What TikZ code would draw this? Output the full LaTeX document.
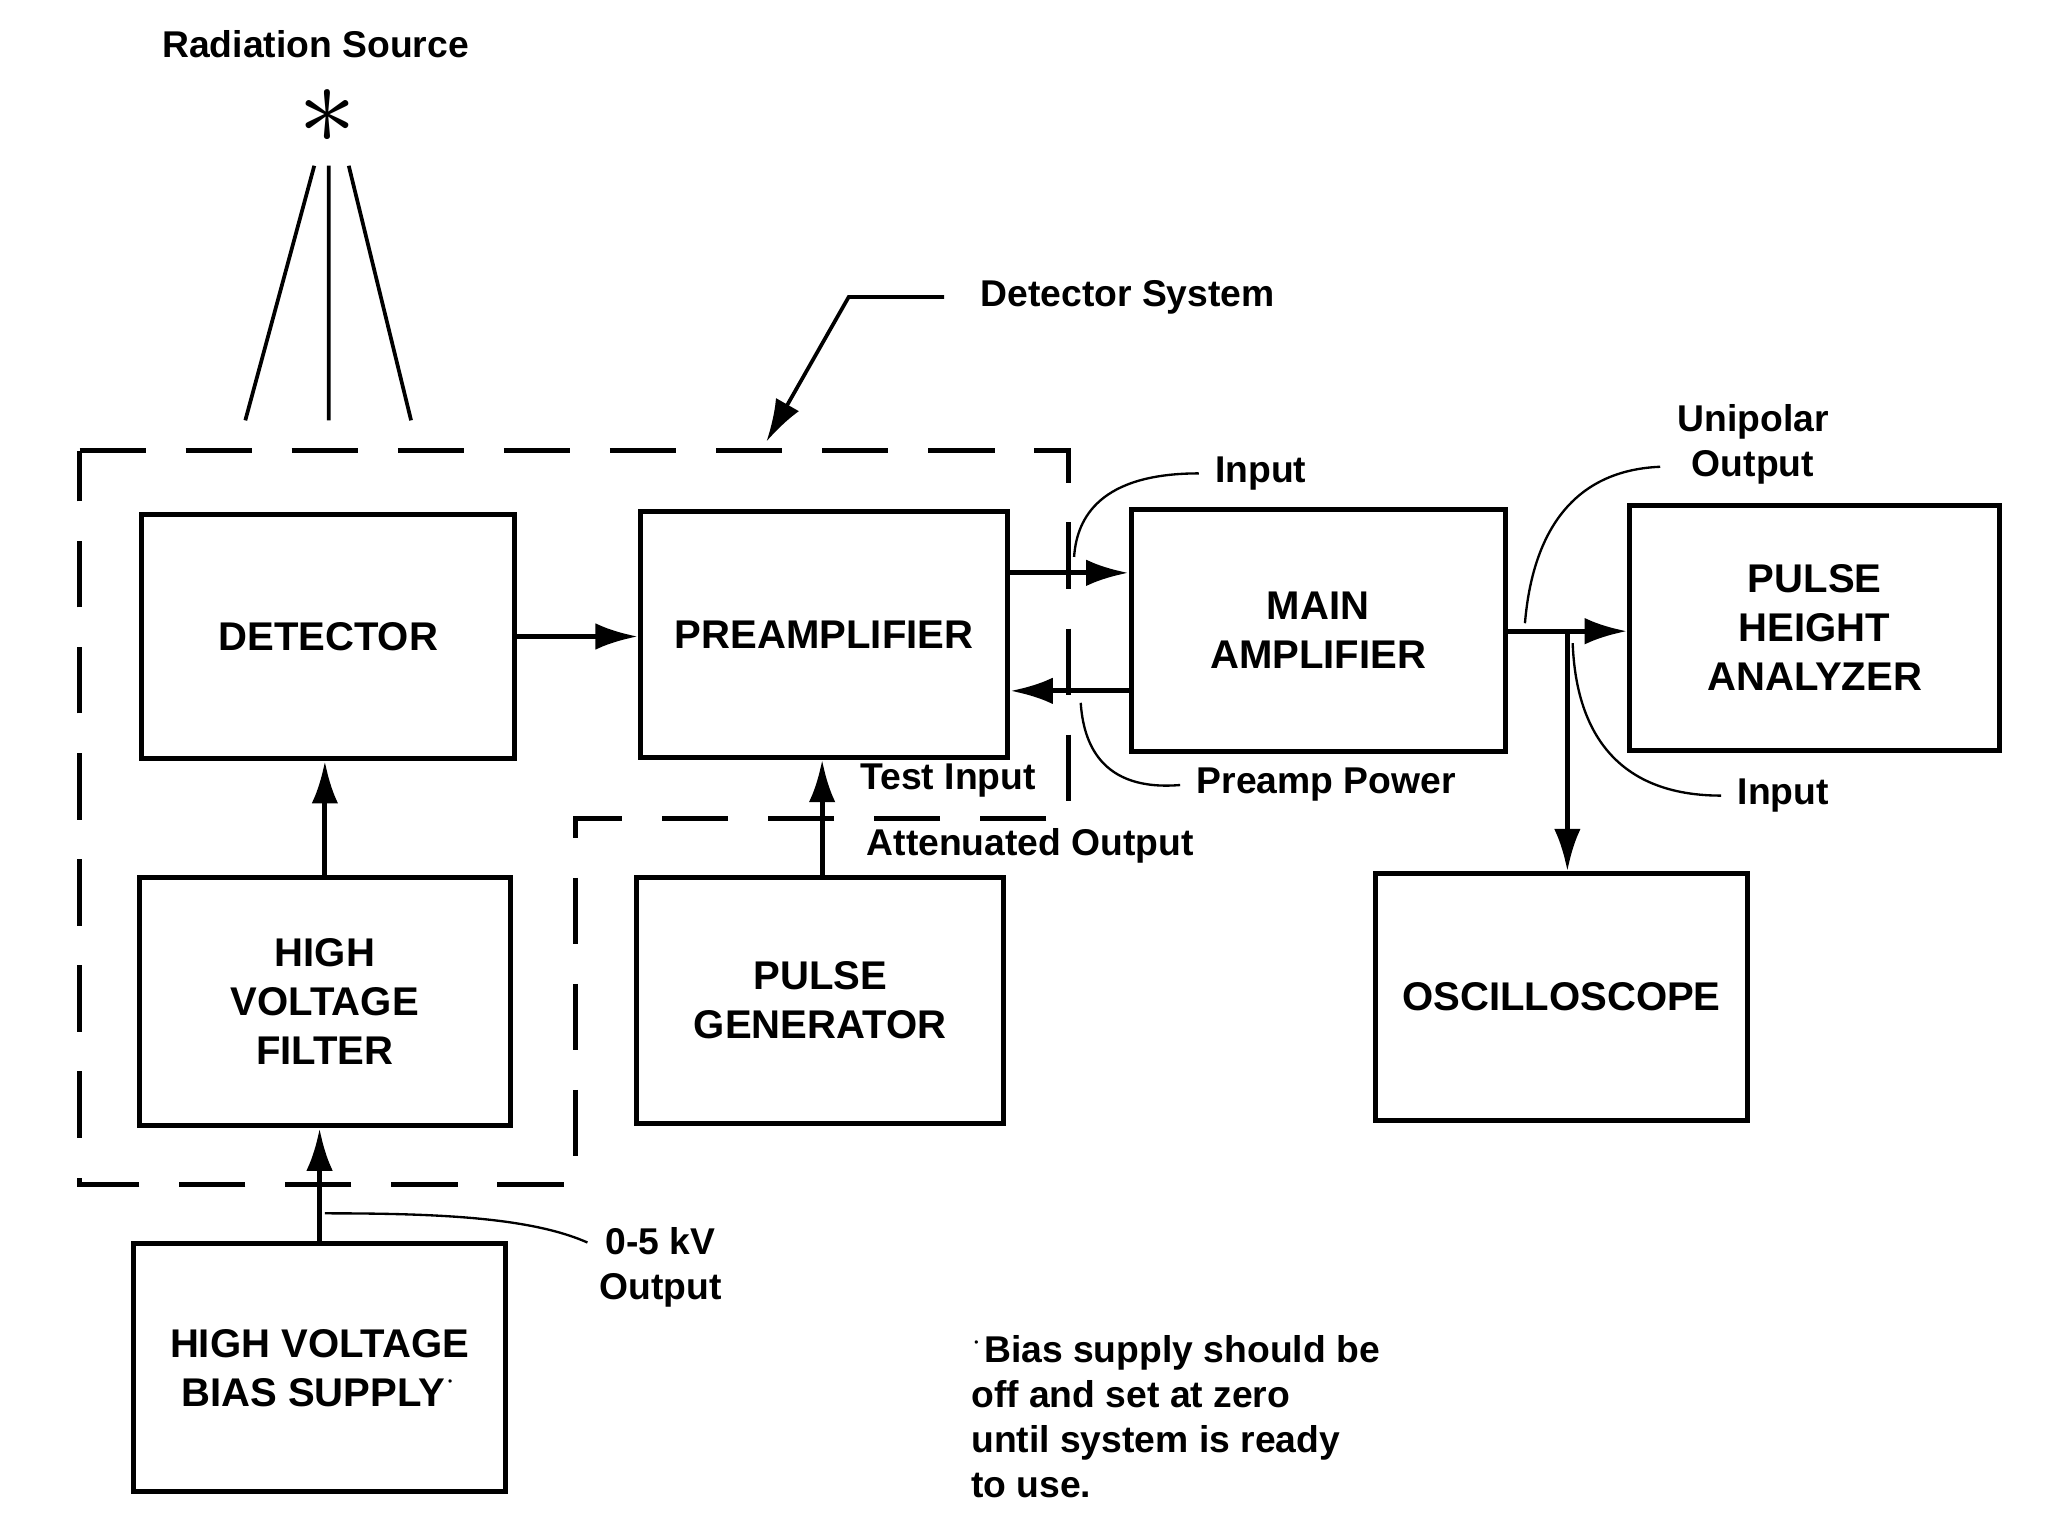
\documentclass[tikz,border=0pt]{standalone}
\usepackage{fontspec}
\setmainfont{Liberation Sans}
\usetikzlibrary{arrows.meta}
\begin{document}
\begin{tikzpicture}[x=0.1mm,y=-0.1mm,
  blk/.style={draw,line width=1.1pt,align=center,font=\fontsize{8.6}{10.5}\selectfont\bfseries},
  lbl/.style={font=\fontsize{8}{9.6}\selectfont\bfseries,align=left},
  arr/.style={line width=1.1pt,-{Latex[length=3.2mm,width=2mm]}},
  thin/.style={line width=0.5pt}]
\useasboundingbox (0,0) rectangle (1552,1160);
\node[blk,minimum width=28.1mm,minimum height=18.4mm] (det) at (247.5,480) {DETECTOR};
\node[blk,minimum width=27.7mm,minimum height=18.5mm] (pre) at (621.5,478.5) {PREAMPLIFIER};
\node[blk,minimum width=28.2mm,minimum height=18.3mm] (main) at (994,475.5) {MAIN\\AMPLIFIER};
\node[blk,minimum width=27.9mm,minimum height=18.5mm] (pha) at (1368.5,473.5) {PULSE\\HEIGHT\\ANALYZER};
\node[blk,minimum width=28mm,minimum height=18.7mm] (hvf) at (245,755.5) {HIGH\\VOLTAGE\\FILTER};
\node[blk,minimum width=27.7mm,minimum height=18.5mm] (pg) at (618.5,754.5) {PULSE\\GENERATOR};
\node[blk,minimum width=28.1mm,minimum height=18.6mm] (osc) at (1177.5,752) {OSCILLOSCOPE};
\node[blk,minimum width=28mm,minimum height=18.7mm] (bias) at (241,1031.5) {HIGH VOLTAGE\\BIAS SUPPLY$^{\cdot}$};
% dashed detector system
\draw[line width=1.1pt,dash pattern=on 5mm off 3mm] (60,340) -- (806,340) -- (806,617) -- (434,617) -- (434,893) -- (60,893) -- cycle;
% radiation source
\node[lbl] (rs) at (238,33) {Radiation Source};
\node (star) at (247,88) {\fontsize{26}{26}\selectfont\bfseries$\ast$};
\coordinate (s1) at (237,125); \coordinate (s2) at (248,125); \coordinate (s3) at (263,125);
\coordinate (e1) at (185,317); \coordinate (e2) at (248,317); \coordinate (e3) at (310,317);
\draw[line width=0.8pt] (s1)--(e1) (s2)--(e2) (s3)--(e3);
% detector system label
\node[lbl,anchor=west] (ds) at (727,224) {Detector System};
\coordinate (dsa) at (712,224); \coordinate (dsb) at (640,224); \coordinate (dsc) at (578,333);
\draw[line width=0.8pt,-{Latex[length=3.2mm,width=2mm]}] (dsa)--(dsb)--(dsc);
% arrows
\draw[arr] (det.east) -- (pre.west|-det.east);
\draw[arr] (pre.east|-0,432) -- (main.west|-0,432);
\draw[arr] (main.west|-0,521) -- (pre.east|-0,521);
\draw[arr] (hvf.north) -- (det.south-|hvf.north);
\draw[arr] (bias.north) -- (hvf.south-|bias.north);
\draw[arr] (pg.north-|620,0) -- (pre.south-|620,0);
\coordinate (br) at (1182,476);
\draw[arr] (main.east|-br) -- (pha.west|-br);
\draw[arr] (br) -- (osc.north-|br);
% labels with leaders
\node[lbl,anchor=west] (in1) at (904,357) {Input};
\draw[thin] (in1.west) .. controls (830,357) and (812,390) .. (810,420);
\node[lbl,align=center] (uo) at (1322,335) {Unipolar\\Output};
\draw[thin] (1252,352) .. controls (1180,355) and (1155,410) .. (1150,470);
\node[lbl,anchor=west] (pp) at (890,592) {Preamp Power};
\draw[thin] (pp.west) .. controls (830,597) and (817,560) .. (815,530);
\node[lbl,anchor=west] (in2) at (1298,600) {Input};
\draw[thin] (in2.west) .. controls (1210,600) and (1188,540) .. (1186,485);
\node[lbl] (ti) at (715,589) {Test Input};
\node[lbl] (ao) at (777,638) {Attenuated Output};
\node[lbl,align=center] (kv) at (498,956) {0-5 kV\\Output};
\draw[thin] (443,937) .. controls (400,918) and (330,915) .. (245,915);
\node[lbl,anchor=north west] (note) at (720,995) {$^{\cdot}$Bias supply should be\\off and set at zero\\until system is ready\\to use.};
\end{tikzpicture}
\end{document}
